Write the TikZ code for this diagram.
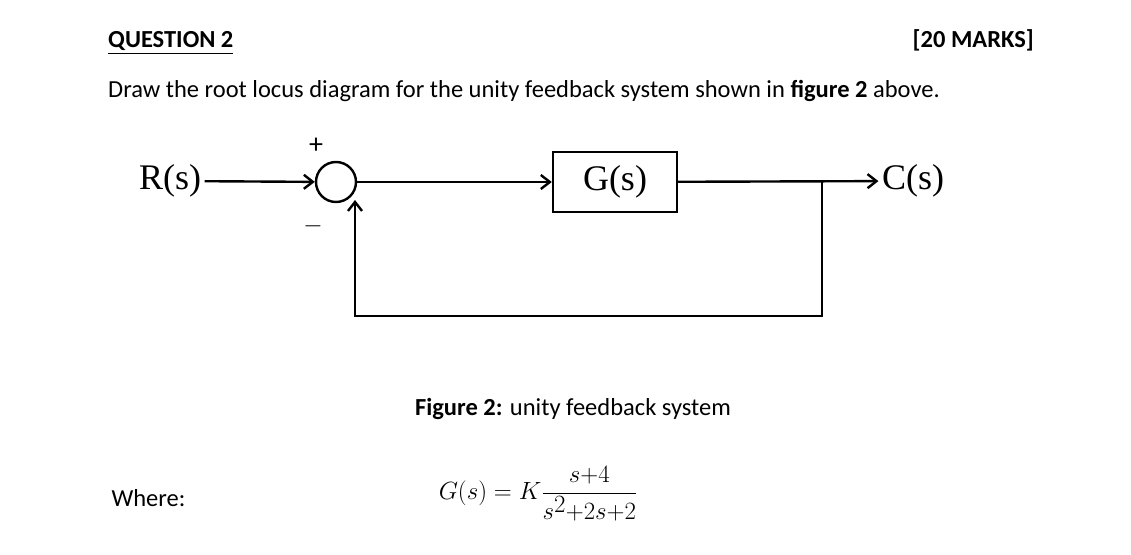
\documentclass[tikz,border=0pt]{standalone}
\usepackage{fontspec}
\usepackage{amsmath}
\setmainfont{Carlito}
\newfontfamily\blockfont{Liberation Serif}
\usetikzlibrary{arrows.meta}
\tikzset{
  blk/.style={draw,line width=2.4pt,minimum width=124pt,minimum height=60pt,font=\blockfont\fontsize{36}{38}\selectfont},
  sig/.style={font=\blockfont\fontsize{36}{38}\selectfont},
  txt/.style={font=\fontsize{24.5}{28}\selectfont},
  wire/.style={line width=2.4pt,-{Straight Barb[length=9pt,width=14pt]}}
}
\begin{document}
\begin{tikzpicture}[x=1pt,y=-1pt]
  \useasboundingbox (0,0) rectangle (1131,554);
  \node[txt,anchor=base west,inner sep=0] (q) at (108,47) {\textbf{\underline{QUESTION 2}}};
  \node[txt,anchor=base east,inner sep=0] (m) at (1034,47) {\textbf{[20 MARKS]}};
  \node[txt,anchor=base west,inner sep=0] (d) at (108,97) {Draw the root locus diagram for the unity feedback system shown in \textbf{figure 2} above.};
  % block diagram
  \node[sig] (r) at (170,181) {R(s)};
  \node[draw,circle,line width=2.4pt,minimum size=40pt,inner sep=0] (sum) at (336,182) {};
  \node[blk] (g) at (615,182) {G(s)};
  \node[sig] (c) at (913,181) {C(s)};
  \node[font=\fontsize{28}{28}\selectfont] (plus) at (316,146) {+};
  \node[font=\fontsize{28}{28}\selectfont] (minus) at (313,226) {$-$};
  \coordinate (tap) at (822,182);
  \coordinate (bl) at (822,316);
  \coordinate (br) at (355,316);
  \coordinate (in) at (355,200);
  \draw[wire] (r) -- (sum);
  \draw[wire] (sum) -- (g);
  \draw[wire] (g) -- (c);
  \draw[wire] (tap) -- (bl) -- (br) -- (in);
  % caption and formula
  \node[txt] (cap) at (573,409) {\textbf{Figure 2:} unity feedback system};
  \node[txt,anchor=west] (w) at (108,498) {Where:};
  \node[font=\fontsize{34}{38}\selectfont] (f) at (538,494) {$G(s)=K\dfrac{s{+}4}{s^2{+}2s{+}2}$};
\end{tikzpicture}
\end{document}
